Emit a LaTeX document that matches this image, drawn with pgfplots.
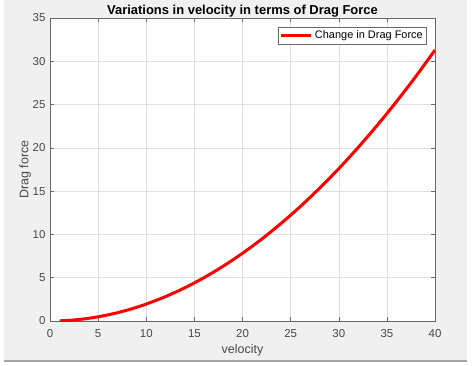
\documentclass[border=0pt]{standalone}
\usepackage{pgfplots}
\pgfplotsset{compat=1.18}
\usepackage{fontspec}
\setmainfont{Liberation Sans}
\definecolor{figbg}{HTML}{F0F0F0}
\definecolor{axcol}{HTML}{262626}
\definecolor{gridc}{HTML}{DFDFDF}
\begin{document}
\begin{tikzpicture}[x=1bp,y=1bp]
\path[use as bounding box] (-50,-44) rectangle (424,321);
\fill[figbg] (-46,-40) rectangle (417,321);
\draw[gray!70,line width=1.5bp] (-46,-40) -- (417,-40);
\begin{axis}[
  at={(0,0)}, anchor=origin,
  scale only axis, width=385bp, height=303bp,
  xmin=0, xmax=40, ymin=0, ymax=35,
  xtick={0,5,...,40}, ytick={0,5,...,35},
  axis background/.style={fill=white},
  axis line style={axcol!70, line width=0.6bp},
  tick style={axcol!70, line width=0.5bp},
  tick align=inside, major tick length=4bp,
  xmajorgrids, ymajorgrids,
  grid style={gridc, line width=0.5bp},
  tick label style={font=\fontsize{11.5}{13}\selectfont, text=axcol!85},
  /pgf/number format/assume math mode=true,
  xticklabel style={yshift=-5bp},
  yticklabel style={xshift=-1bp},
  title={\fontsize{13}{15}\selectfont\bfseries Variations in velocity in terms of Drag Force},
  title style={at={(0.5,1)}, anchor=base, yshift=-2bp, inner sep=0bp, text=black},
  xlabel={velocity}, ylabel={Drag force},
  label style={font=\fontsize{12.5}{14}\selectfont, text=axcol!85},
  xlabel style={yshift=0bp},
  ylabel style={yshift=-5bp},
  legend style={at={(0.978,0.97)}, anchor=north east, draw=axcol!70, line width=0.5bp,
    font=\fontsize{11}{12}\selectfont, inner sep=1.5bp, row sep=0pt},
  legend image code/.code={\draw[#1] (0bp,0bp) -- (30bp,0bp);},
  legend cell align=left,
]
\addplot[red, line width=3bp, smooth] coordinates {
(1,0.0196) (2,0.078) (3,0.176) (4,0.313) (5,0.489) (6,0.704) (7,0.958) (8,1.252)
(9,1.584) (10,1.956) (12,2.817) (14,3.834) (16,5.007) (18,6.337) (20,7.824)
(22,9.467) (24,11.27) (26,13.22) (28,15.34) (30,17.60) (32,20.03) (34,22.61)
(36,25.35) (38,28.24) (40,31.30)};
\addlegendentry{Change in Drag Force}
\end{axis}
\end{tikzpicture}
\end{document}
